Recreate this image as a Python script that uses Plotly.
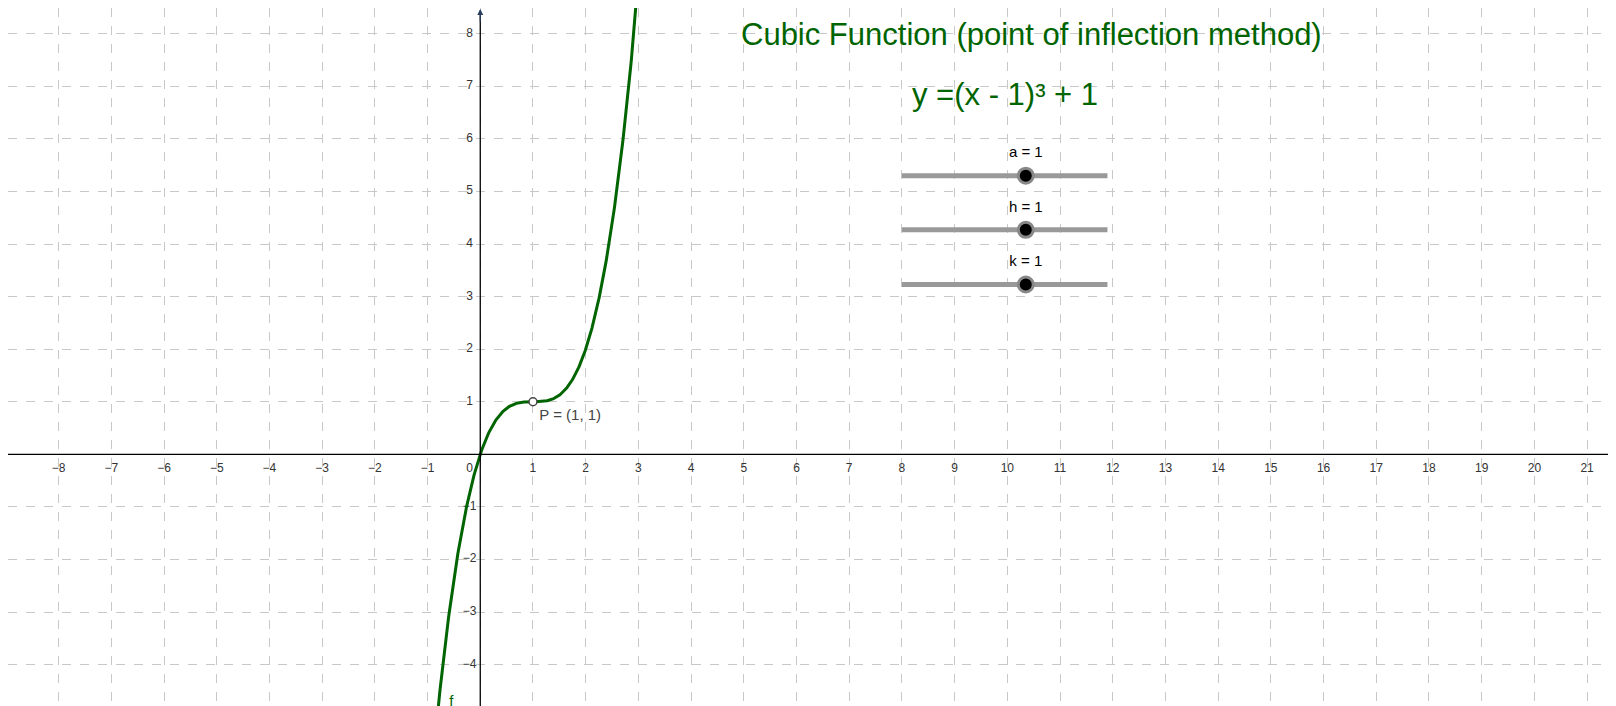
import numpy as np
import plotly.graph_objects as go

# slider values shown in the applet
a_val, h_val, k_val = 1, 1, 1
slider_names = ['a = 1', 'h = 1', 'k = 1']
slider_y = [5.3, 4.27, 3.23]
slider_knob_x = [10.35, 10.35, 10.35]
x_ticks = [i for i in range(-8, 22) if i != 0]
y_ticks = [i for i in range(-4, 9) if i != 0]

x_range = [-8.96, 21.7]
y_range = [-4.94, 8.49]

xs = np.linspace(-1.2, 3.2, 400)
ys = a_val * (xs - h_val) ** 3 + k_val

green = '#006400'
font = 'Arial, Liberation Sans'
fig = go.Figure()

# sliders
for name, sy, kx in zip(slider_names, slider_y, slider_knob_x):
    fig.add_trace(go.Scatter(x=[8, 11.9], y=[sy, sy], mode='lines',
                             line=dict(color='#999999', width=5), hoverinfo='skip'))
    fig.add_trace(go.Scatter(x=[kx], y=[sy], mode='markers',
                             marker=dict(color='black', size=15, line=dict(color='#888888', width=3)),
                             hoverinfo='skip'))
    fig.add_trace(go.Scatter(x=[kx], y=[sy + 0.42], mode='text', text=[name],
                             textfont=dict(family=font, size=15, color='black')))

# tick labels
fig.add_trace(go.Scatter(x=x_ticks, y=[-0.28] * len(x_ticks), mode='text',
                         text=[str(v).replace('-', '−') for v in x_ticks],
                         textfont=dict(family=font, size=12, color='#333333')))
fig.add_trace(go.Scatter(x=[-0.2] * len(y_ticks), y=y_ticks, mode='text',
                         text=[str(v).replace('-', '−') for v in y_ticks],
                         textfont=dict(family=font, size=12, color='#333333')))
fig.add_trace(go.Scatter(x=[-0.2], y=[-0.28], mode='text', text=['0'],
                         textfont=dict(family=font, size=12, color='#333333')))

# curve
fig.add_trace(go.Scatter(x=xs, y=ys, mode='lines', line=dict(color=green, width=3), hoverinfo='skip'))
fig.add_trace(go.Scatter(x=[-0.55], y=[-4.72], mode='text', text=['f'],
                         textfont=dict(family=font, size=15, color=green)))

# point P
fig.add_trace(go.Scatter(x=[h_val], y=[k_val], mode='markers',
                         marker=dict(color='white', size=8, line=dict(color='#444444', width=1.5))))
fig.add_trace(go.Scatter(x=[h_val + 0.12], y=[k_val - 0.27], mode='text', text=['P = (1, 1)'],
                         textposition='middle right',
                         textfont=dict(family=font, size=15, color='#444444')))

# axes
fig.add_shape(type='line', x0=x_range[0], x1=x_range[1] - 0.1, y0=0, y1=0, line=dict(color='black', width=1.3))
fig.add_shape(type='line', x0=0, x1=0, y0=y_range[0], y1=y_range[1] - 0.05, line=dict(color='black', width=1.3))
fig.add_annotation(x=x_range[1] - 0.05, y=0, ax=-14, ay=0, showarrow=True, arrowhead=2, arrowwidth=1.2, text='')
fig.add_annotation(x=0, y=y_range[1] - 0.02, ax=0, ay=14, showarrow=True, arrowhead=2, arrowwidth=1.2, text='')

fig.add_annotation(x=10.45, y=7.98, text='Cubic Function (point of inflection method)', showarrow=False,
                   font=dict(family=font, size=31, color=green))
fig.add_annotation(x=9.95, y=6.85, text='y =(x - 1)³ + 1', showarrow=False,
                   font=dict(family=font, size=31, color=green))

grid = dict(showgrid=True, gridcolor='#c8c8c8', griddash='dash', gridwidth=1, dtick=1, tick0=0,
            showticklabels=False, zeroline=False, showline=False, fixedrange=True)
fig.update_xaxes(range=x_range, **grid)
fig.update_yaxes(range=y_range, **grid)
fig.update_layout(width=1616, height=706, margin=dict(l=0, r=0, t=0, b=0),
                  paper_bgcolor='white', plot_bgcolor='white', showlegend=False)
fig.write_html("out.html")
